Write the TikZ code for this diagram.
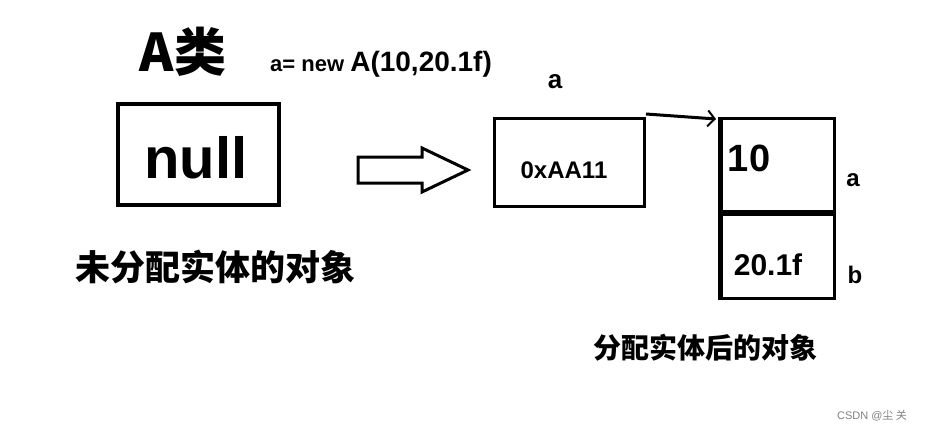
\documentclass[tikz,border=0pt]{standalone}
\usepackage{fontspec}
\setmainfont{Liberation Sans}
\newfontfamily\cjk{Noto Sans CJK SC}
\usetikzlibrary{arrows.meta}
\tikzstyle{cell}=[rectangle, draw, line width=3pt, inner sep=0pt, anchor=north west]
\tikzstyle{lbl}=[inner sep=0pt, font=\bfseries]
\begin{document}
\begin{tikzpicture}[x=1pt,y=-1pt]
	\useasboundingbox (0,0) rectangle (933,433);
	%The titles
	\node[lbl, font=\fontsize{52}{52}\cjk\bfseries] (title) at (183,52) {A类};
	\node[lbl, font=\fontsize{22}{22}\bfseries, anchor=west] (call) at (270,64) {a= new \fontsize{28}{28}\selectfont A(10,20.1f)};
	
	%The unallocated object
	\node[cell, line width=4pt, minimum width=161pt, minimum height=101pt] (null) at (116,102) {};
	\node[lbl, font=\fontsize{58}{58}\bfseries] (nullt) at (196,158) {null};
	\node[lbl, font=\fontsize{35}{35}\cjk\bfseries] (cap1) at (215,267) {未分配实体的对象};
	
	%The hollow arrow
	\draw[line width=3pt, line join=miter] (358,157) -- (422,157) -- (422,148) -- (468,170) -- (422,192) -- (422,183) -- (358,183) -- cycle;
	
	%The reference
	\node[lbl, font=\fontsize{26}{26}\bfseries] (aname) at (555,82) {a};
	\node[cell, minimum width=150pt, minimum height=88pt] (ref) at (493,117) {};
	\node[lbl, font=\fontsize{24}{24}\bfseries] (reft) at (564,170) {0xAA11};
	
	%The allocated object
	\node[cell, minimum width=113pt, minimum height=93pt] (fa) at (720,117) {};
	\node[cell, minimum width=113pt, minimum height=87pt] (fb) at (720,210) {};
	\draw[line width=5pt] (fa.north west) -- (fb.south west);
	\draw[line width=5pt] (fa.south west) -- (fa.south east);
	\node[lbl, font=\fontsize{38}{38}\bfseries] (fat) at (749,158) {10};
	\node[lbl, font=\fontsize{30}{30}\bfseries] (fbt) at (768,265) {20.1f};
	\node[lbl, font=\fontsize{24}{24}\bfseries] (fal) at (853,180) {a};
	\node[lbl, font=\fontsize{24}{24}\bfseries] (fbl) at (855,275) {b};
	\node[lbl, font=\fontsize{28}{28}\cjk\bfseries] (cap2) at (705,348) {分配实体后的对象};
	
	\draw[draw=black, line width=3pt, -{Straight Barb[length=7pt,width=16pt,line width=2pt]}] ([yshift=3pt]ref.north east) -- ([xshift=-4pt,yshift=-2pt]fa.north west);
	
	\node[inner sep=0pt, text=gray, font=\fontsize{11}{11}\selectfont] (mark) at (872,416) {CSDN @{\cjk 尘 关}};
\end{tikzpicture}
\end{document}
